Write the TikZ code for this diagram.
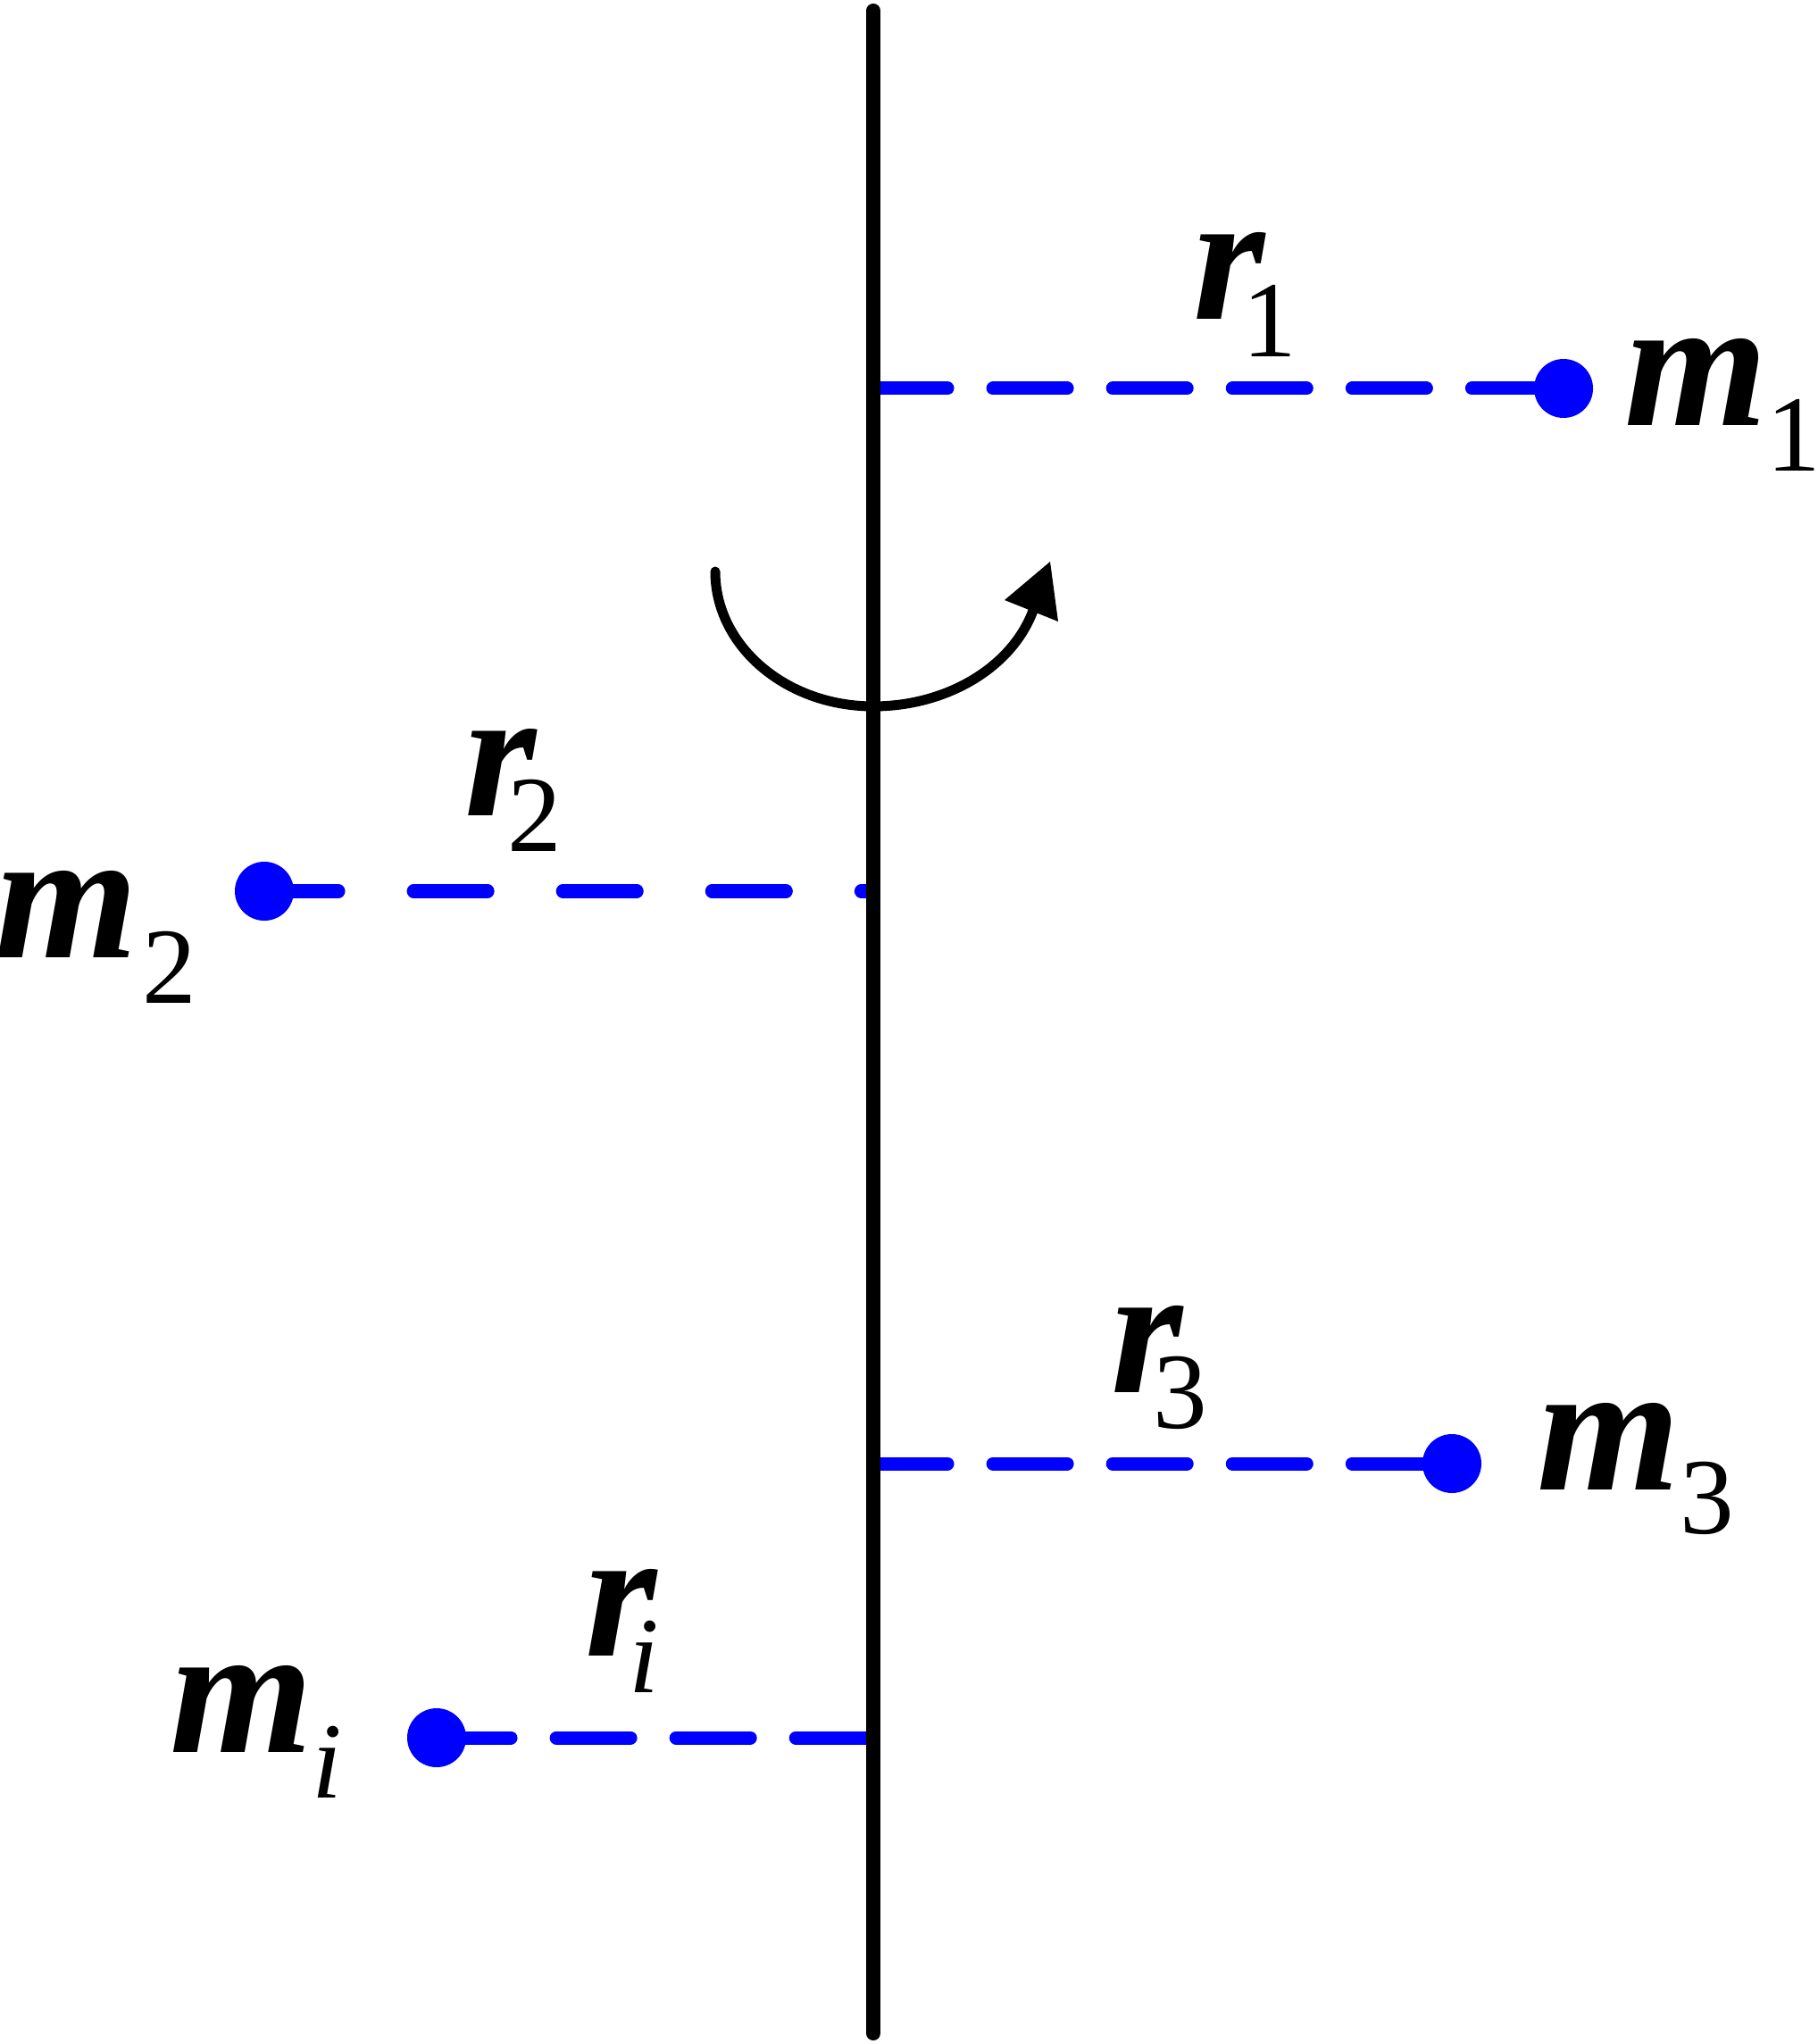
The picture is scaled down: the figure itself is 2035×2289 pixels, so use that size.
\documentclass[tikz,border=0pt]{standalone}
\usepackage{fontspec}
\setmainfont{Liberation Serif}
\tikzset{
  axisline/.style={line width=4.55pt, line cap=round},
  radline/.style={blue, line width=4.27pt, line cap=round},
  shortdash/.style={dash pattern=on 0.83cm off 0.51cm},
  longdash/.style={dash pattern=on 0.83cm off 0.84cm},
  lbl/.style={anchor=base west, inner sep=0pt, outer sep=0pt},
  rot/.style={line width=3.13pt, line cap=round},
}
\newcommand\mainsty{\fontsize{58.6pt}{60pt}\selectfont\bfseries\itshape}
\newcommand\substy{\fontsize{34.5pt}{36pt}\selectfont\mdseries\upshape}
\newcommand\lab[4]{{\mainsty #1}\kern#3\raisebox{-#4}{\substy #2}}
\begin{document}
\begin{tikzpicture}[x=0.01cm, y=-0.01cm]
\useasboundingbox (0,0) rectangle (2035,2289);
% axis points
\coordinate (top) at (978,12);
\coordinate (bot) at (978,2277);
\coordinate (a1) at (978,435);
\coordinate (a2) at (978,998);
\coordinate (a3) at (978,1639);
\coordinate (ai) at (978,1946);
% masses (centres)
\coordinate (d1) at (1751,435);
\coordinate (d2) at (296,998);
\coordinate (d3) at (1626,1639);
\coordinate (di) at (489,1946);
% radius lines
\draw[radline, shortdash] (a1) -- (d1);
\draw[radline, longdash] (d2) -- (a2);
\draw[radline, shortdash] (a3) -- (d3);
\draw[radline, shortdash] (di) -- (ai);
\fill[blue] (d1) circle[radius=33];
\fill[blue] (d2) circle[radius=33];
\fill[blue] (d3) circle[radius=33];
\fill[blue] (di) circle[radius=33];
% rotation arrow
\coordinate (rs) at (801,640);
\coordinate (rb) at (978,791);
\coordinate (re) at (1156.8,684.2);
\draw[rot] (rs) .. controls (801,723.4) and (880.2,791) .. (rb)
           .. controls (1060.2,791) and (1132.8,747.7) .. (re);
\coordinate (h1) at (1125,672);
\coordinate (h2) at (1176,629);
\coordinate (h3) at (1185,696);
\fill (h1) -- (h2) -- (h3) -- cycle;
% axis
\draw[axisline] (top) -- (bot);
% labels
\node[lbl] (lr1) at (1336,358) {\lab{r}{1}{-0.245cm}{0.41cm}};
\node[lbl] (lm1) at (1819,477) {\lab{m}{1}{-0.01cm}{0.50cm}};
\node[lbl] (lr2) at (520,913) {\lab{r}{2}{-0.317cm}{0.40cm}};
\node[lbl] (lm2) at (-5,1072) {\lab{m}{2}{0.04cm}{0.51cm}};
\node[lbl] (lr3) at (1244,1559) {\lab{r}{3}{-0.323cm}{0.40cm}};
\node[lbl] (lm3) at (1721,1668) {\lab{m}{3}{0.005cm}{0.49cm}};
\node[lbl] (lri) at (655,1854) {\lab{r}{\itshape i}{-0.31cm}{0.41cm}};
\node[lbl] (lmi) at (190,1962) {\lab{m}{\itshape i}{-0.012cm}{0.51cm}};
\end{tikzpicture}
\end{document}
